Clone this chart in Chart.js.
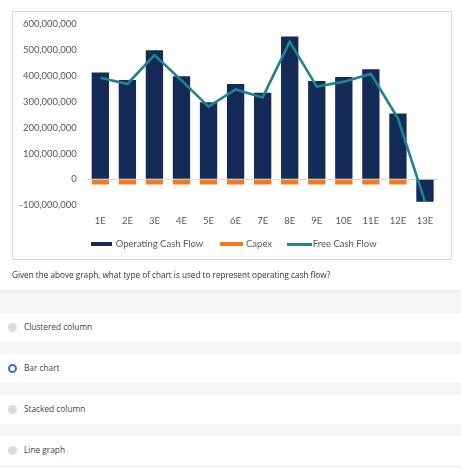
<!DOCTYPE html>
<html>
<head>
<meta charset="utf-8">
<script src="https://cdn.jsdelivr.net/npm/chart.js@4.4.1/dist/chart.umd.min.js"></script>
<style>
  html, body { margin: 0; padding: 0; }
  body { width: 461px; height: 468px; background: #f4f5f7; position: relative; overflow: hidden; font-family: "Open Sans", sans-serif; }
  #top { position: absolute; left: 0; top: 0; width: 461px; height: 290px; background: #fff; box-shadow: 0 1px 3px rgba(0,0,0,0.06); }
  #box { position: absolute; left: 12px; top: 11px; width: 438px; height: 247px; border: 1px solid #d9d9d9; background: #fff; }
  #c { position: absolute; left: 0; top: 0; }
  #legend { position: absolute; left: 0; top: 226px; width: 438px; height: 12px; font-family: Lato, sans-serif; font-size: 9.5px; color: #595959; }
  .li { position: absolute; top: 0; height: 12px; line-height: 12px; white-space: nowrap; }
  .sw { position: absolute; top: 4px; height: 4px; }
  .ln { position: absolute; top: 5px; height: 2.5px; }
  #q { position: absolute; left: 12px; top: 269px; font-size: 8.2px; color: #333; white-space: nowrap; }
  .opt { position: absolute; left: 0; width: 461px; height: 29px; background: #fff; }
  .opt span { position: absolute; left: 24px; top: 7px; font-size: 8.3px; color: #444; line-height: 14px; white-space: nowrap; }
  .rad { position: absolute; left: 8px; top: 10px; width: 9px; height: 9px; border-radius: 50%; background: #dcdcdc; box-sizing: border-box; }
  .rad.sel { background: #fff; border: 2.5px solid #3a6cc6; }
</style>
</head>
<body>
<div id="top"></div>
<div id="box">
  <canvas id="c" width="438" height="247"></canvas>
  <div id="legend">
    <div class="sw" style="left:77.7px;width:21.5px;background:#132b56"></div>
    <div class="li" style="left:102.7px">Operating Cash Flow</div>
    <div class="sw" style="left:207px;width:22.7px;background:#f37a1f"></div>
    <div class="li" style="left:233px">Capex</div>
    <div class="ln" style="left:274px;width:24.7px;background:#21838f"></div>
    <div class="li" style="left:299.7px">Free Cash Flow</div>
  </div>
</div>
<div id="q">Given the above graph, what type of chart is used to represent operating cash flow?</div>
<div class="opt" style="top:313px"><div class="rad"></div><span>Clustered column</span></div>
<div class="opt" style="top:354px"><div class="rad sel"></div><span>Bar chart</span></div>
<div class="opt" style="top:395px"><div class="rad"></div><span>Stacked column</span></div>
<div class="opt" style="top:436px"><div class="rad"></div><span>Line graph</span></div>

<script>
const categories = ["1E","2E","3E","4E","5E","6E","7E","8E","9E","10E","11E","12E","13E"];
const operatingCashFlow = [413e6, 384e6, 500e6, 399e6, 298e6, 369e6, 335e6, 553e6, 380e6, 396e6, 426e6, 255e6, -87e6];
const capex = [-20e6, -20e6, -20e6, -20e6, -20e6, -20e6, -20e6, -20e6, -20e6, -20e6, -20e6, -20e6, null];
const freeCashFlow = [393e6, 369e6, 481e6, 383e6, 281e6, 348e6, 317e6, 533e6, 359e6, 378e6, 408e6, 236e6, -87e6];
const yTicks = { min: -100e6, max: 600e6, step: 100e6 };

const tickFont = { family: "Lato, sans-serif", size: 9.5 };

new Chart(document.getElementById('c'), {
  type: 'bar',
  data: {
    labels: categories,
    datasets: [
      { type: 'line', label: 'Free Cash Flow', data: freeCashFlow, borderColor: '#21838f', borderWidth: 2.6,
        pointRadius: 0, pointHoverRadius: 0, fill: false, tension: 0, order: 0, borderJoinStyle: 'miter' },
      { label: 'Operating Cash Flow', data: operatingCashFlow, backgroundColor: '#132b56', grouped: false,
        categoryPercentage: 1, barPercentage: 0.64, order: 2 },
      { label: 'Capex', data: capex, backgroundColor: '#f37a1f', grouped: false,
        categoryPercentage: 1, barPercentage: 0.64, order: 1 }
    ]
  },
  options: {
    responsive: false,
    animation: false,
    layout: { padding: { left: 0, right: 12.5, top: 12.3, bottom: 0 } },
    plugins: { legend: { display: false }, tooltip: { enabled: false } },
    scales: {
      x: {
        grid: { display: false },
        border: { display: false },
        ticks: { font: tickFont, color: '#595959', padding: 2, maxRotation: 0, autoSkip: false },
        afterFit: (s) => { s.height = 53.9; s.paddingLeft = 0; s.paddingRight = 0; }
      },
      y: {
        min: yTicks.min, max: yTicks.max,
        grid: { drawTicks: false, color: (ctx) => (ctx.tick && ctx.tick.value === 0) ? '#d9d9d9' : 'rgba(0,0,0,0)', lineWidth: 1 },
        border: { display: false },
        ticks: { stepSize: yTicks.step, font: tickFont, color: '#595959', padding: 10,
          callback: (v) => Number(v).toLocaleString('en-US') },
        afterFit: (s) => { s.width = 73.8; s.paddingTop = 0; s.paddingBottom = 0; }
      }
    }
  }
});
</script>
</body>
</html>
